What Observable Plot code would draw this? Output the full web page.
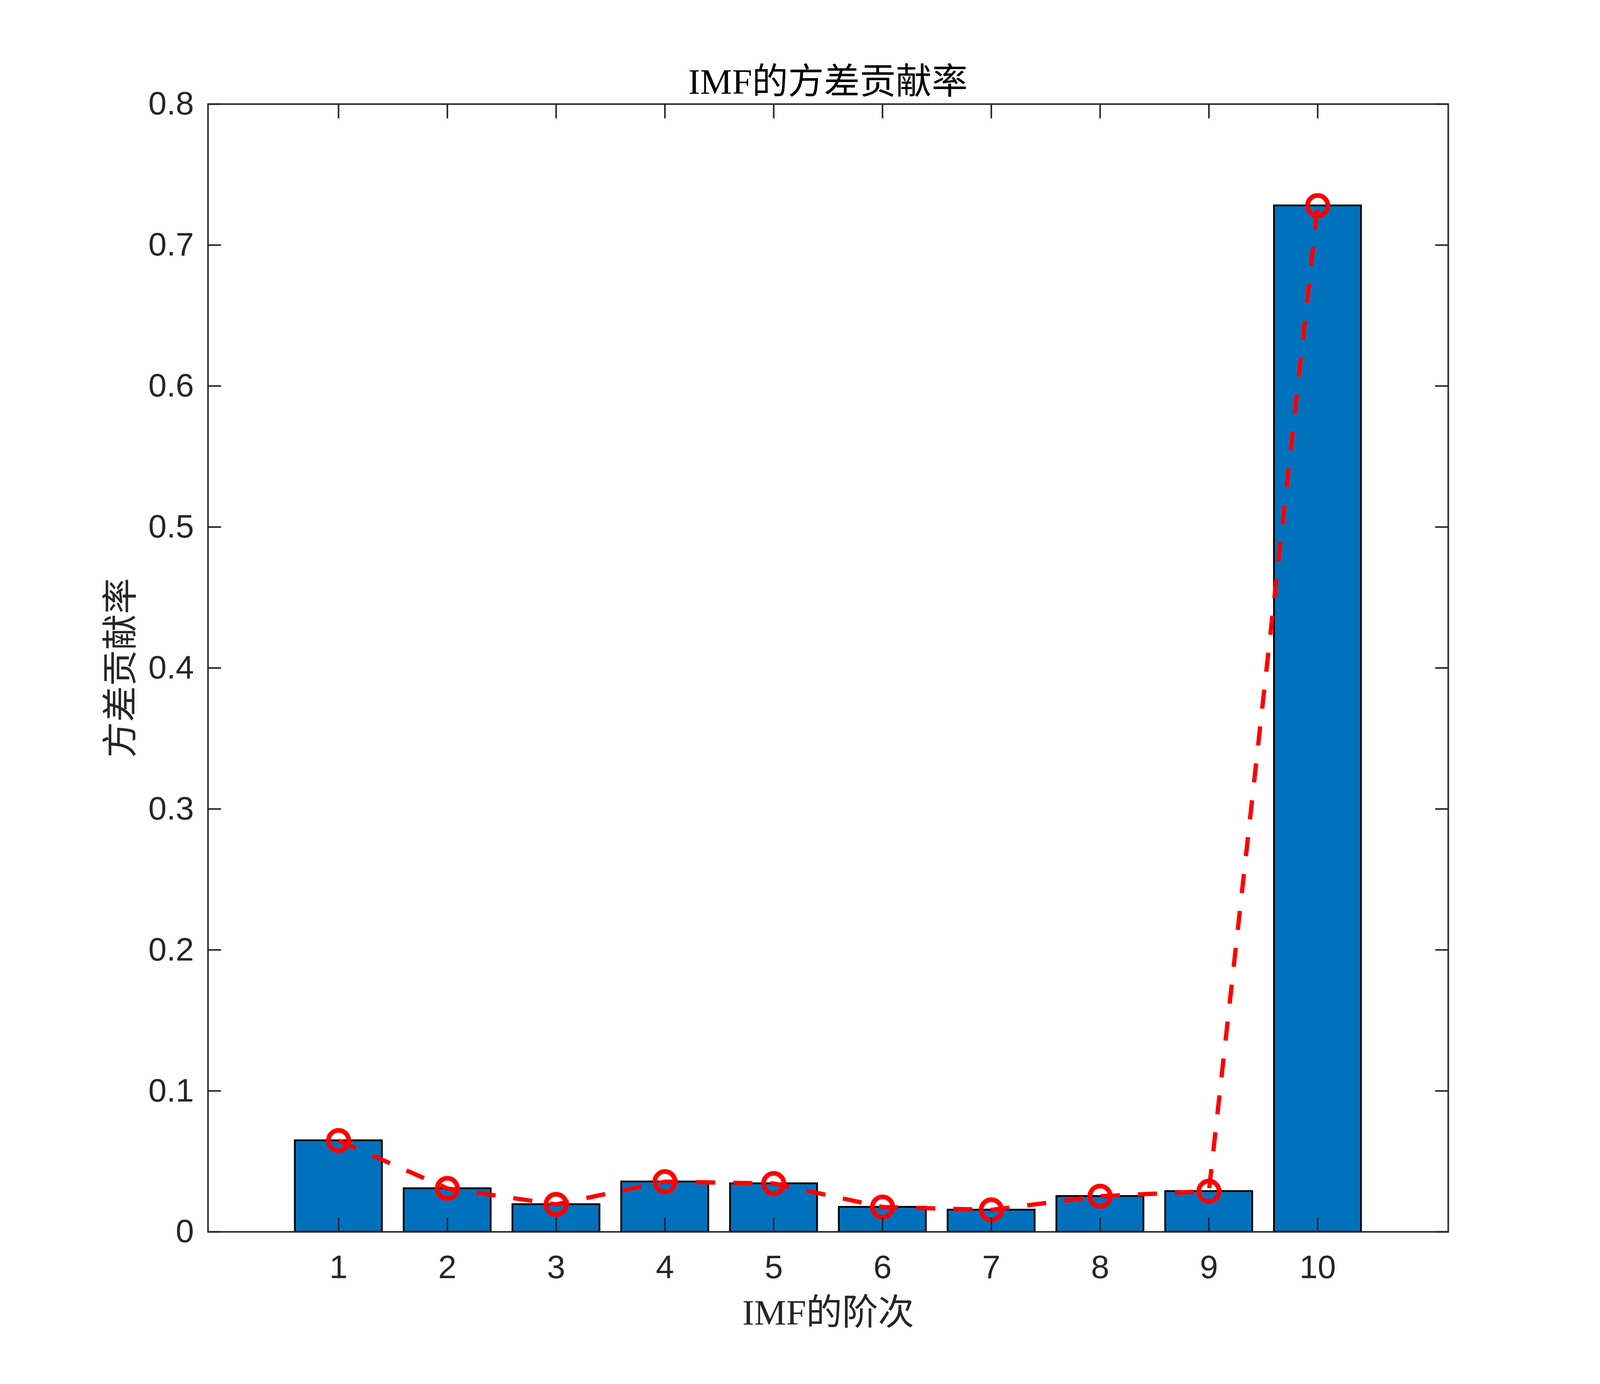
<!DOCTYPE html>
<html>
<head>
<meta charset="utf-8">
<script src="https://cdn.jsdelivr.net/npm/d3@7"></script>
<script src="https://cdn.jsdelivr.net/npm/@observablehq/plot@0.6"></script>
<style>
html, body { margin: 0; padding: 0; background: #fff; overflow: hidden; }
/* horizontal placement follows the window width (axes box at 13%..90.5%), vertical sizes in px */
#title {
  height: 260px; box-sizing: border-box; padding-top: 163px;
  margin-left: 12.9975vw; width: 77.4979vw; text-align: center;
  font-family: "Liberation Serif", "Noto Sans CJK SC", serif;
  font-size: 92px; line-height: 92px; color: #000; white-space: nowrap;
}
#chart svg { display: block; }
</style>
</head>
<body>
<div id="title"></div>
<div id="chart"></div>
<script>
// ---- data ----
const imfOrders = [1, 2, 3, 4, 5, 6, 7, 8, 9, 10];
const contributions = [0.0648, 0.0308, 0.0195, 0.0356, 0.0343, 0.0176, 0.0156, 0.0253, 0.0288, 0.728];
const xTicks = [1, 2, 3, 4, 5, 6, 7, 8, 9, 10];
const xTickLabels = ["1", "2", "3", "4", "5", "6", "7", "8", "9", "10"];
const yTicks = [0, 0.1, 0.2, 0.3, 0.4, 0.5, 0.6, 0.7, 0.8];
const yTickLabels = ["0", "0.1", "0.2", "0.3", "0.4", "0.5", "0.6", "0.7", "0.8"];
const titleText = "IMF的方差贡献率";
const xLabelText = "IMF的阶次";
const yLabelText = "方差贡献率";

document.getElementById("title").textContent = titleText;

const table = imfOrders.map((k, i) => ({k, v: contributions[i]}));
const barWidth = 0.8;
const axisColor = "#262626";
const serif = "Liberation Serif, Noto Sans CJK SC, serif";

// figure width follows the window; axes box keeps MATLAB's normalized position
const W = document.documentElement.clientWidth || window.innerWidth || 4724;
const sx = W / 4724;

const chart = Plot.plot({
  width: W,
  height: 3283,
  marginLeft: Math.round(614 * sx),
  marginRight: Math.round(449 * sx),
  marginTop: 6,
  marginBottom: 390,
  style: {background: "#fff", fontFamily: "Liberation Sans, Arial, sans-serif", color: axisColor, overflow: "visible", maxWidth: "none"},
  x: {domain: [-0.2, 11.2]},
  y: {domain: [0, 0.8]},
  marks: [
    Plot.rectY(table, {
      x1: d => d.k - barWidth / 2, x2: d => d.k + barWidth / 2, y1: 0, y2: "v",
      fill: "#0072BD", stroke: "#000", strokeWidth: 4.5
    }),
    Plot.line(table, {
      x: "k", y: "v", stroke: "#FF0000", strokeWidth: 11,
      strokeDasharray: "49,46", strokeLinecap: "butt", curve: "linear"
    }),
    Plot.dot(table, {x: "k", y: "v", r: 26, stroke: "#FF0000", strokeWidth: 12, fill: "none"}),
    Plot.frame({stroke: axisColor, strokeWidth: 4}),
    // inward ticks on all four sides
    Plot.axisX(xTicks, {anchor: "bottom", tickSize: -36, stroke: axisColor, strokeWidth: 4, fill: "none", label: null}),
    Plot.axisX(xTicks, {anchor: "top", tickSize: -36, stroke: axisColor, strokeWidth: 4, fill: "none", label: null}),
    Plot.axisY(yTicks, {anchor: "left", tickSize: -34, stroke: axisColor, strokeWidth: 4, fill: "none", label: null}),
    Plot.axisY(yTicks, {anchor: "right", tickSize: -34, stroke: axisColor, strokeWidth: 4, fill: "none", label: null}),
    // tick labels
    Plot.axisX(xTicks, {
      anchor: "bottom", tickSize: 0, tickPadding: 59, fontSize: 84, fill: axisColor, label: null,
      tickFormat: d => xTickLabels[xTicks.indexOf(d)]
    }),
    Plot.axisY(yTicks, {
      anchor: "left", tickSize: 0, tickPadding: 36, fontSize: 84, fill: axisColor, label: null,
      tickFormat: d => yTickLabels[yTicks.indexOf(d)]
    }),
    // axis labels
    Plot.text([xLabelText], {
      frameAnchor: "bottom", dy: 208, fontSize: 92, fontFamily: serif, fill: axisColor,
      textAnchor: "middle", lineAnchor: "middle"
    }),
    Plot.text([yLabelText], {
      frameAnchor: "left", dx: -222, rotate: -90, fontSize: 92, fontFamily: serif, fill: axisColor,
      textAnchor: "middle", lineAnchor: "middle"
    })
  ]
});
document.getElementById("chart").appendChild(chart);
</script>
</body>
</html>
